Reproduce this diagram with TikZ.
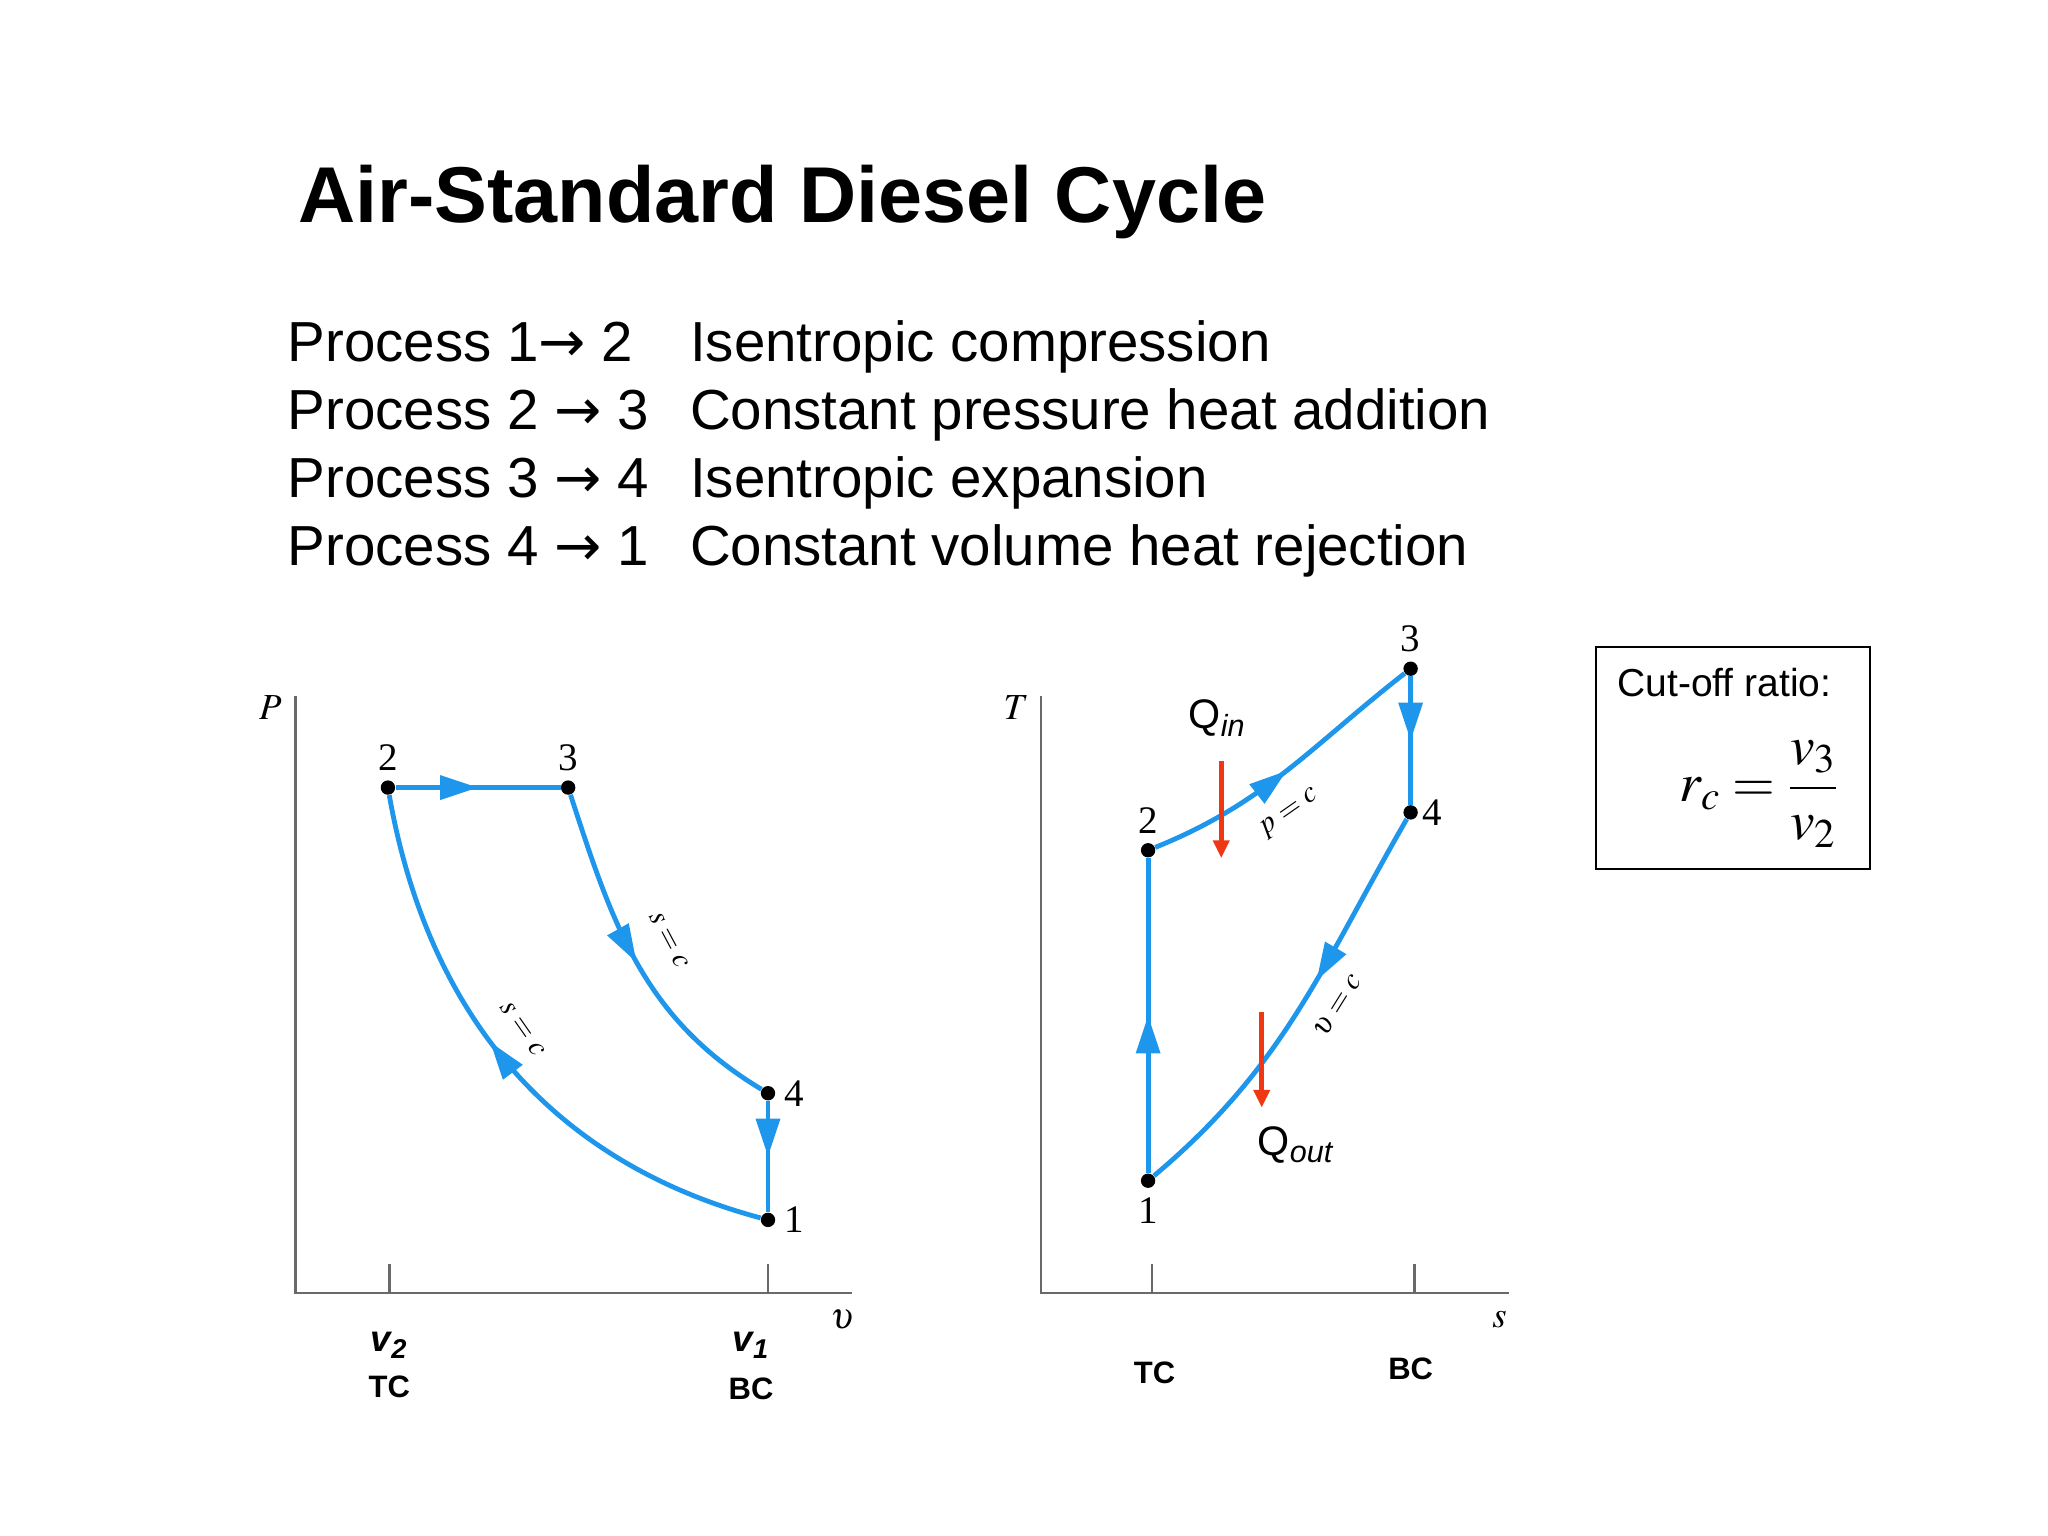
\documentclass[tikz,border=0pt]{standalone}
\usepackage{mathptmx}
\usepackage{fontspec}
\setmainfont{Liberation Sans}
\newfontfamily\timesfont{Liberation Serif}
\newfontfamily\arrowfont{DejaVu Sans}
\usetikzlibrary{arrows.meta, decorations.markings, positioning}

\definecolor{cycleblue}{RGB}{30,150,235}
\definecolor{heatred}{RGB}{240,55,20}
\definecolor{axisgray}{RGB}{105,105,105}

\tikzset{
  statept/.style={circle, fill=black, inner sep=0pt, minimum size=0.22cm},
  ptlabel/.style={font=\timesfont\fontsize{17}{17}\selectfont, inner sep=1pt},
  axislbl/.style={font=\fontsize{16}{16}\selectfont},
  axisline/.style={draw=axisgray, line width=1.2pt},
  process/.style={color=cycleblue, line width=2.1pt, postaction={decorate},
    decoration={markings, mark=at position #1 with {\arrow{Triangle[length=0.58cm,width=0.36cm]}}}},
  process/.default=0.5,
  heatflow/.style={draw=heatred, line width=2pt, -{Triangle[length=0.27cm,width=0.24cm]}},
  pathnote/.style={font=\fontsize{13}{13}\selectfont, inner sep=0pt},
  stroke/.style={font=\bfseries\fontsize{13.5}{14}\selectfont},
  proctext/.style={font=\fontsize{24.6}{26}\selectfont, anchor=base west, inner sep=0pt},
}

\begin{document}
\begin{tikzpicture}[x=0.02cm, y=0.02cm]
  \useasboundingbox (0,0) rectangle (1568,1176);

  % title and process list
  \node[anchor=base west, inner sep=0pt, font=\bfseries\fontsize{34.5}{36}\selectfont] (title) at (228,1006) {Air-Standard Diesel Cycle};
  \node[proctext] (p12) at (220,899) {Process 1{\arrowfont →} 2};
  \node[proctext] (p23) at (220,847) {Process 2 {\arrowfont →} 3};
  \node[proctext] (p34) at (220,795) {Process 3 {\arrowfont →} 4};
  \node[proctext] (p41) at (220,743) {Process 4 {\arrowfont →} 1};
  \node[proctext] (d12) at (528,899) {Isentropic compression};
  \node[proctext] (d23) at (528,847) {Constant pressure heat addition};
  \node[proctext] (d34) at (528,795) {Isentropic expansion};
  \node[proctext] (d41) at (528,743) {Constant volume heat rejection};

  % p-v diagram
  \draw[axisline] (226,643) -- (226,186) -- (652,186);
  \draw[axisline] (298,186) -- (298,208);
  \draw[axisline] (588,186) -- (588,208);
  \node[axislbl] (pvP) at (207,634) {$P$};
  \node[axislbl] (pvV) at (645,166) {$\upsilon$};

  \node[statept] (pv1) at (588,242) {};
  \node[statept] (pv2) at (297,573) {};
  \node[statept] (pv3) at (435,573) {};
  \node[statept] (pv4) at (588,339) {};
  \node[ptlabel, above=0.1cm of pv2] (pv2lbl) {2};
  \node[ptlabel, above=0.1cm of pv3] (pv3lbl) {3};
  \node[ptlabel, right=0.1cm of pv4] (pv4lbl) {4};
  \node[ptlabel, right=0.1cm of pv1] (pv1lbl) {1};

  \draw[process] (pv2) -- (pv3);
  \draw[process=0.5] (pv3) to[out=-72, in=149] (pv4);
  \draw[process] (pv4) -- (pv1);
  \draw[process=0.55] (pv1) to[out=165, in=-80] (pv2);
  \node[pathnote, rotate=-62] (pvS1) at (512,456) {$s=c$};
  \node[pathnote, rotate=-55] (pvS2) at (400,388) {$s=c$};

  \node[font=\bfseries\itshape\fontsize{16}{16}\selectfont] (pvV2) at (298,146) {v\textsubscript{2}};
  \node[stroke] (pvTC) at (298,114) {TC};
  \node[font=\bfseries\itshape\fontsize{16}{16}\selectfont] (pvV1) at (575,146) {v\textsubscript{1}};
  \node[stroke] (pvBC) at (575,113) {BC};

  % T-s diagram
  \draw[axisline] (797,643) -- (797,186) -- (1155,186);
  \draw[axisline] (882,186) -- (882,208);
  \draw[axisline] (1083,186) -- (1083,208);
  \node[axislbl] (tsT) at (778,634) {$T$};
  \node[axislbl] (tsS) at (1148,166) {$s$};

  \node[statept] (ts1) at (879,272) {};
  \node[statept] (ts2) at (879,525) {};
  \node[statept] (ts3) at (1080,664) {};
  \node[statept] (ts4) at (1080,554) {};
  \node[ptlabel, below=0.1cm of ts1] (ts1lbl) {1};
  \node[ptlabel, above=0.1cm of ts2] (ts2lbl) {2};
  \node[ptlabel, above=0.1cm of ts3] (ts3lbl) {3};
  \node[ptlabel, right=0.02cm of ts4] (ts4lbl) {4};

  \draw[process] (ts1) -- (ts2);
  \draw[process=0.5] (ts2) to[out=22, in=-142] (ts3);
  \draw[process] (ts3) -- (ts4);
  \draw[process=0.42] (ts4) to[out=-120, in=40] (ts1);
  \node[pathnote, rotate=35] (tsP) at (988,553) {$p=c$};
  \node[pathnote, rotate=58] (tsV) at (1024,406) {$\upsilon=c$};

  \coordinate (qinTop) at (935,593);
  \coordinate (qinBot) at (935,519);
  \coordinate (qoutTop) at (966,401);
  \coordinate (qoutBot) at (966,328);
  \draw[heatflow] (qinTop) -- (qinBot);
  \draw[heatflow] (qoutTop) -- (qoutBot);
  \node[font=\fontsize{18}{18}\selectfont] (qin) at (932,626) {Q\textsubscript{\itshape in}};
  \node[font=\fontsize{18}{18}\selectfont] (qout) at (992,299) {Q\textsubscript{\itshape out}};

  \node[stroke] (tsTC) at (884,125) {TC};
  \node[stroke] (tsBC) at (1080,128) {BC};

  % cut-off ratio box
  \node[draw, line width=0.9pt, minimum width=4.2cm, minimum height=3.4cm] (cutbox) at (1327,596) {};
  \node[anchor=base west, inner sep=0pt, font=\fontsize{17}{17}\selectfont] (cutlbl) at (1238,643) {Cut-off ratio:};
  \node[font=\fontsize{24}{28}\selectfont] (cutfrac) at (1347,568) {$\displaystyle r_c=\frac{v_3}{v_2}$};
\end{tikzpicture}
\end{document}
